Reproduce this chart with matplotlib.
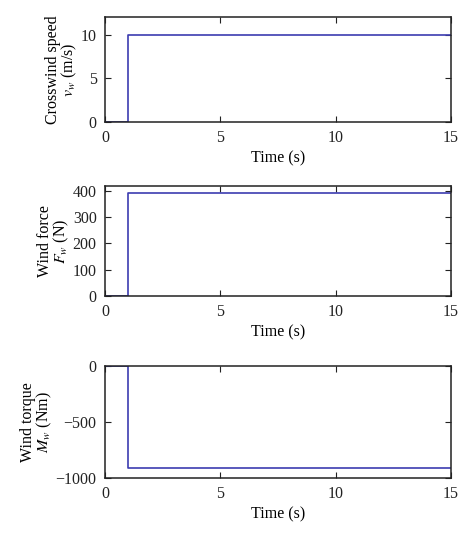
"""
Crosswind disturbance profiles: wind speed, wind force and wind torque.
"""

import numpy as np
import matplotlib.pyplot as plt

plt.rcParams['font.family'] = ['Liberation Serif', 'DejaVu Serif']
plt.rcParams['mathtext.fontset'] = 'stix'
plt.rcParams['font.size'] = 11

# Data (step at t = 1 s)
time = [0, 1, 1, 15]
wind_speed = [0, 0, 10, 10]
wind_force = [0, 0, 390, 390]
wind_torque = [0, 0, -915, -915]

xticks = [0, 5, 10, 15]
line_color = '#3c3cb0'

fig = plt.figure(figsize=(4.74, 5.4), dpi=100)

panels = [
    # (position, y data, ylim, yticks, ylabel)
    ([0.2215, 0.774, 0.730, 0.194], wind_speed, (0, 12), [0, 5, 10],
     'Crosswind speed\n$v_w$ (m/s)'),
    ([0.2215, 0.452, 0.730, 0.204], wind_force, (0, 418), [0, 100, 200, 300, 400],
     'Wind force\n$F_w$ (N)'),
    ([0.2215, 0.115, 0.730, 0.207], wind_torque, (-1000, 0), [-1000, -500, 0],
     'Wind torque\n$M_w$ (Nm)'),
]

for pos, yvals, ylim, yticks, ylabel in panels:
    ax = fig.add_axes(pos)
    ax.plot(time, yvals, color=line_color, linewidth=1.2)
    ax.set_xlim(0, 15)
    ax.set_ylim(*ylim)
    ax.set_xticks(xticks)
    ax.set_yticks(yticks)
    ax.set_yticklabels([str(v).replace('-', '\u2212') for v in yticks])
    ax.set_xlabel('Time (s)', fontsize=11.5, labelpad=3)
    ax.set_ylabel(ylabel, fontsize=11.5, linespacing=0.95, labelpad=1)
    ax.tick_params(direction='in', top=True, right=True, length=4,
                   width=0.8, labelsize=11.5, colors='#222222', pad=6)
    for spine in ax.spines.values():
        spine.set_linewidth(1.1)
        spine.set_color('#222222')

plt.savefig('out.png', dpi=100)
plt.close()
